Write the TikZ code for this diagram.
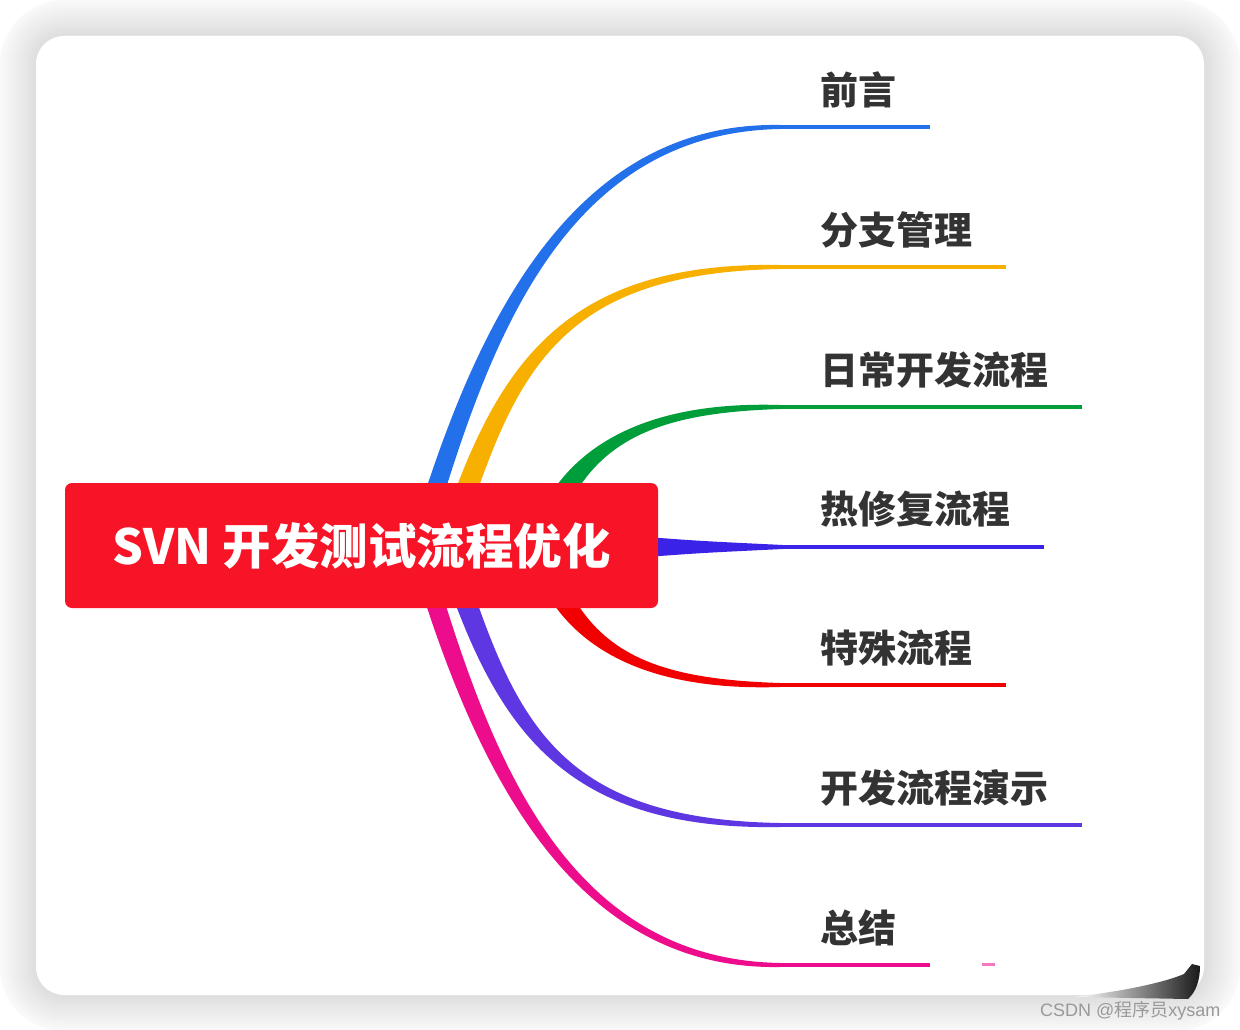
\documentclass[tikz,border=0pt]{standalone}
\usepackage{fontspec}
\setmainfont{Liberation Sans}
\newfontfamily\cjk{Noto Sans CJK SC}
\usetikzlibrary{calc}
\definecolor{cblue}{HTML}{2370EB}
\definecolor{corange}{HTML}{F8B000}
\definecolor{cgreen}{HTML}{009E3A}
\definecolor{cwedge}{HTML}{3A22E6}
\definecolor{cred}{HTML}{F00000}
\definecolor{cpurple}{HTML}{5E37E2}
\definecolor{cmagenta}{HTML}{EC0C8C}
\definecolor{rootred}{HTML}{F71427}
\definecolor{textgray}{HTML}{333333}
% #1 colour, #2 end offset (signed), #3 P0, #4 P1, #5 P2, #6 P3, #7 line end, #8 half width at root
\newcommand\taperbranch[8]{%
  \fill[#1] ($(#3)+({-#8},0)$) .. controls ($(#4)+({-#8},0)$) and ($(#5)+(0,{3*(#2)})$) .. ($(#6)+(0,{#2})$)
     -- ($(#6)+(0,{-(#2)})$) .. controls ($(#5)+(0,{-3*(#2)})$) and ($(#4)+({#8},0)$) .. ($(#3)+({#8},0)$) -- cycle;
  \draw[#1, line width=4pt] (#6) -- (#7);
}
\tikzset{
  lbl/.style={anchor=west, inner sep=0pt, text=textgray, font=\cjk\bfseries\fontsize{38}{40}\selectfont},
}
\begin{document}
\begin{tikzpicture}[x=1pt,y=-1pt]
\useasboundingbox (0,0) rectangle (1240,1030);
\fill[white] (0,0) rectangle (1240,1030);
% shadow
\foreach \i in {36,35,...,1}{
  \pgfmathsetmacro\g{2+11*(1-\i/36)}
  \pgfmathsetmacro\r{28+\i}
  \fill[black!\g, rounded corners=\r pt] ({36-\i},{36-\i}) rectangle ({1204+\i},{995+\i});
}
% card
\fill[white, rounded corners=28pt] (36,36) rectangle (1204,995);

% coordinates
\coordinate (a0) at (418,547); \coordinate (a1) at (474,360); \coordinate (a2) at (555,127); \coordinate (a3) at (780,127); \coordinate (ae) at (930,127);
\coordinate (b0) at (447,547); \coordinate (b1) at (502,380); \coordinate (b2) at (550,267); \coordinate (b3) at (780,267); \coordinate (be) at (1006,267);
\coordinate (c0) at (540,547); \coordinate (c1) at (570,440); \coordinate (c2) at (655,407); \coordinate (c3) at (780,407); \coordinate (ce) at (1082,407);
\coordinate (d3) at (783,547); \coordinate (de) at (1044,547);
\coordinate (e0) at (540,547); \coordinate (e1) at (570,654); \coordinate (e2) at (655,685); \coordinate (e3) at (780,685); \coordinate (ee) at (1006,685);
\coordinate (f0) at (447,547); \coordinate (f1) at (502,714); \coordinate (f2) at (550,825); \coordinate (f3) at (780,825); \coordinate (fe) at (1082,825);
\coordinate (g0) at (418,547); \coordinate (g1) at (474,734); \coordinate (g2) at (555,965); \coordinate (g3) at (780,965); \coordinate (ge) at (930,965);

\taperbranch{cblue}{-2}{a0}{a1}{a2}{a3}{ae}{10}
\taperbranch{corange}{-2}{b0}{b1}{b2}{b3}{be}{11.5}
\taperbranch{cgreen}{-2}{c0}{c1}{c2}{c3}{ce}{13}
\taperbranch{cred}{2}{e0}{e1}{e2}{e3}{ee}{13}
\taperbranch{cpurple}{2}{f0}{f1}{f2}{f3}{fe}{11.5}
\taperbranch{cmagenta}{2}{g0}{g1}{g2}{g3}{ge}{10}
% wedge
\fill[cwedge] (640,536.5) .. controls (700,541) .. ($(d3)+(0,-2)$) -- ($(d3)+(0,2)$) .. controls (700,553) .. (640,557.5) -- cycle;
\draw[cwedge, line width=4pt] (d3) -- (de);

% central node
\node[fill=rootred, rounded corners=7pt, minimum width=593pt, minimum height=125pt, inner sep=0pt,
      text=white, font=\cjk\bfseries\fontsize{48.5}{50}\selectfont] (root) at (361.5,545.5) {SVN 开发测试流程优化};

% labels
\node[lbl] (t1) at (820,90) {前言};
\node[lbl] (t2) at (820,230) {分支管理};
\node[lbl] (t3) at (820,370) {日常开发流程};
\node[lbl] (t4) at (820,509) {热修复流程};
\node[lbl] (t5) at (820,648) {特殊流程};
\node[lbl] (t6) at (820,788) {开发流程演示};
\node[lbl] (t7) at (820,928) {总结};

% small stub and ink smear
\draw[cmagenta!55, line width=3pt] (982,964.5) -- (995,964.5);
\shade[left color=white, right color=black!90] (1075,997) .. controls (1130,990) and (1165,982) .. (1184,974)
   -- (1192,964) -- (1200,966) .. controls (1200,980) and (1196,992) .. (1188,999) -- cycle;

% watermark
\node[anchor=west, inner sep=0pt, text=black!40, font=\fontsize{18}{20}\selectfont] (wm) at (1040,1011) {CSDN @{\cjk 程序员}xysam};
\end{tikzpicture}
\end{document}
